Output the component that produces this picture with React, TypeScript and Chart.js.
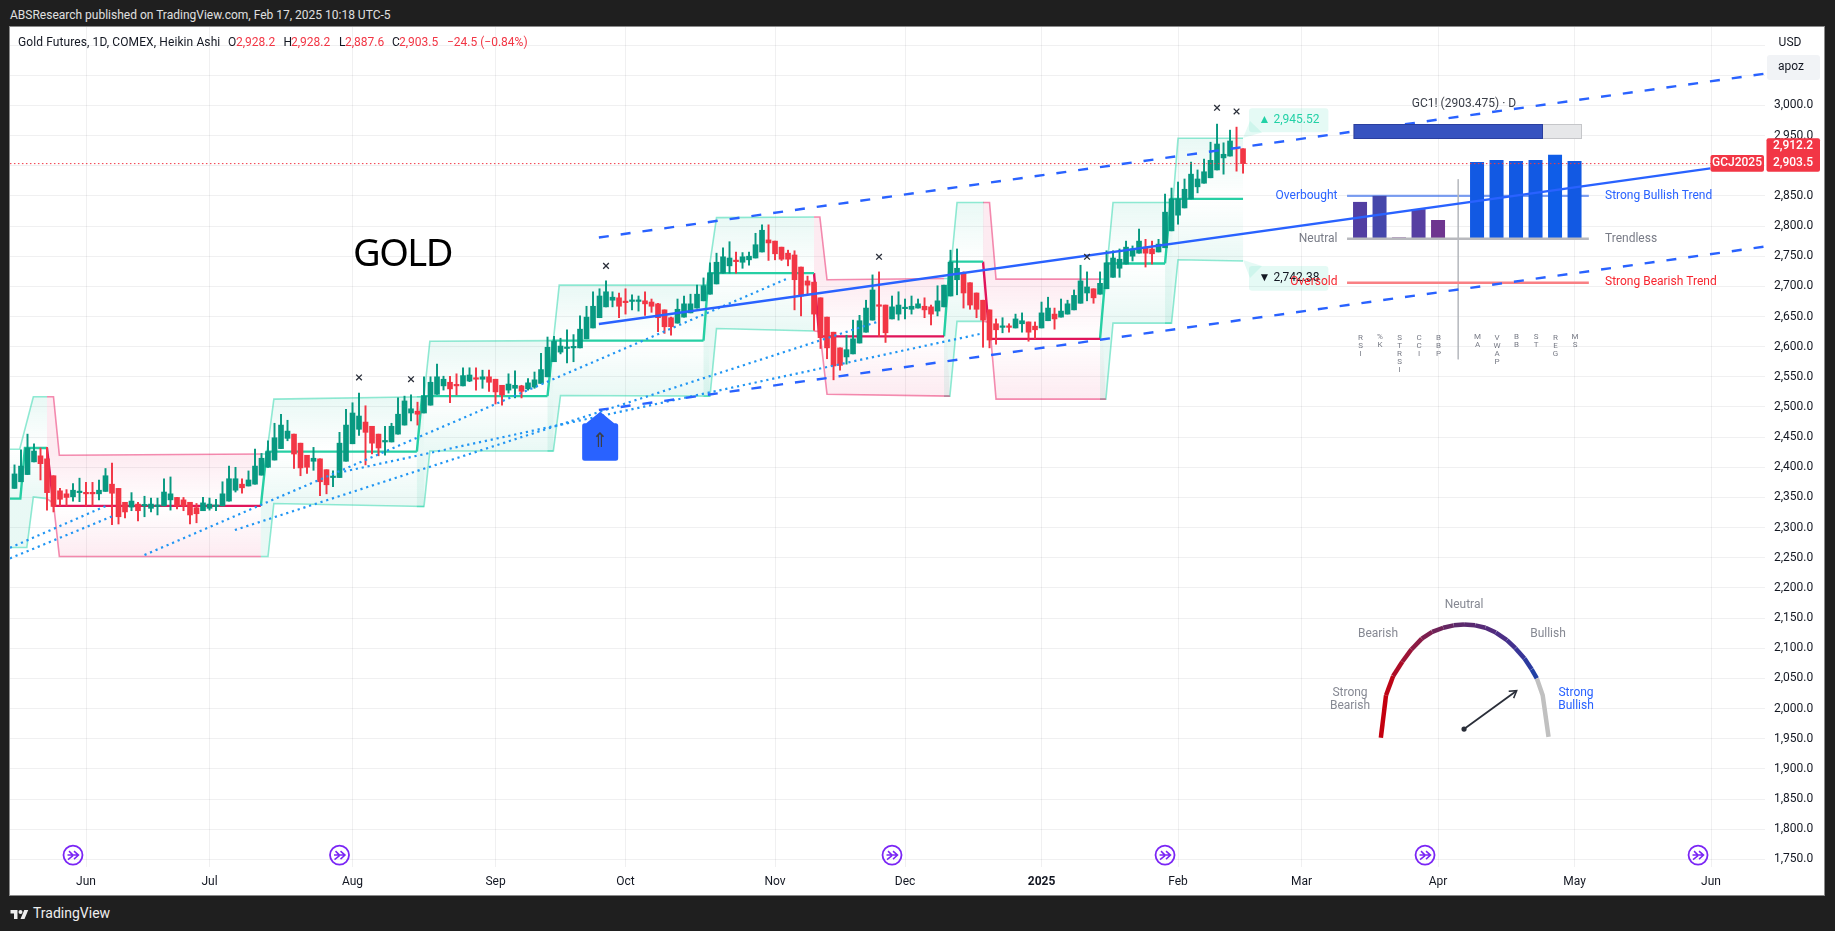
import React, { useEffect, useRef } from "react";
import { Chart, registerables } from "chart.js";

Chart.register(...registerables);

const FONT = "Roboto, sans-serif";

// bar index 0 = first session of June 2024
const firstBar = -11;
const candleOpen = [
  2365,2376,2388,2409,2419,2414,2386,2361,2356,2351,2358,
  2357,2357,2356,2360,2372,2365,2342,2334,2339,2336,
  2332,2335,2336,2346,2350,2346,2342,2333,2328,2332,
  2335,2336,2344,2362,2372,2369,2372,2387,2400,2412,
  2431,2448,2455,2440,2420,2410,2414,2396,2383,2383,
  2410,2439,2463,2475,2468,2455,2442,2442,2455,2470,
  2490,2493,2490,2503,2521,2535,2541,2536,2535,2543,
  2547,2546,2550,2546,2536,2528,2531,2535,2530,2533,
  2539,2550,2575,2591,2597,2598,2598,2613,2631,2648,
  2666,2677,2681,2675,2675,2675,2676,2674,2671,2661,
  2648,2639,2649,2656,2664,2676,2687,2704,2722,2734,
  2742,2740,2744,2747,2757,2777,2775,2765,2755,2752,
  2732,2709,2707,2681,2649,2624,2598,2583,2588,2606,
  2624,2644,2669,2669,2646,2654,2663,2662,2664,2667,
  2666,2659,2666,2684,2711,2722,2706,2689,2677,2661,
  2638,2632,2634,2631,2638,2641,2634,2631,2643,2654,
  2649,2654,2661,2672,2689,2696,2687,2696,2715,2730,
  2737,2750,2755,2765,2762,2757,2764,2792,2818,2830,
  2845,2865,2871,2880,2893,2913,2916,2929,2928.2,
];
const candleHigh = [
  2404,2429,2455,2439,2432,2433,2386,2365,2363,2373,2382,
  2375,2375,2379,2398,2407,2365,2342,2358,2342,2352,
  2349,2349,2381,2384,2350,2350,2342,2340,2350,2349,
  2347,2376,2402,2400,2381,2394,2430,2423,2444,2473,
  2488,2478,2455,2440,2420,2433,2414,2396,2394,2458,
  2496,2507,2523,2502,2468,2455,2468,2473,2515,2518,
  2520,2508,2550,2550,2571,2551,2551,2555,2565,2565,
  2565,2561,2561,2546,2536,2555,2560,2536,2547,2558,
  2589,2616,2617,2614,2628,2620,2651,2667,2691,2696,
  2709,2691,2689,2696,2686,2684,2691,2679,2672,2661,
  2649,2679,2684,2687,2702,2714,2739,2755,2764,2774,
  2757,2756,2757,2788,2802,2802,2775,2765,2760,2759,
  2732,2717,2707,2681,2649,2624,2598,2619,2644,2652,
  2677,2719,2724,2669,2684,2691,2679,2684,2679,2681,
  2669,2701,2702,2760,2762,2724,2706,2689,2677,2661,
  2646,2648,2638,2654,2656,2641,2641,2674,2682,2664,
  2679,2677,2694,2735,2724,2696,2724,2759,2759,2762,
  2775,2767,2795,2778,2775,2778,2853,2863,2873,2878,
  2906,2893,2911,2939,2969,2938,2959,2964,2928.2,
];
const candleLow = [
  2365,2376,2388,2409,2379,2329,2326,2336,2336,2344,2343,
  2336,2336,2346,2360,2305,2306,2316,2328,2311,2318,
  2326,2321,2336,2329,2331,2328,2306,2308,2328,2329,
  2328,2336,2344,2359,2357,2369,2372,2387,2400,2412,
  2431,2444,2398,2386,2390,2395,2353,2356,2368,2383,
  2410,2439,2453,2404,2422,2419,2420,2442,2455,2470,
  2477,2470,2490,2503,2521,2528,2507,2520,2535,2542,
  2528,2531,2526,2505,2503,2523,2515,2515,2528,2531,
  2539,2550,2575,2588,2573,2575,2598,2613,2631,2648,
  2666,2666,2648,2654,2661,2659,2652,2657,2625,2622,
  2619,2639,2649,2656,2664,2676,2687,2704,2722,2722,
  2722,2730,2735,2747,2757,2743,2744,2743,2734,2661,
  2651,2686,2627,2597,2580,2545,2561,2571,2588,2606,
  2624,2644,2617,2607,2646,2644,2646,2654,2664,2648,
  2636,2651,2666,2684,2686,2664,2662,2648,2599,2598,
  2604,2623,2624,2631,2624,2609,2613,2631,2643,2629,
  2649,2654,2661,2672,2676,2672,2687,2696,2715,2715,
  2737,2742,2755,2732,2737,2757,2764,2792,2803,2830,
  2845,2855,2871,2880,2893,2886,2916,2891,2887.6,
];
const candleClose = [
  2389,2402,2432,2427,2406,2358,2335,2347,2350,2362,2360,
  2356,2356,2362,2386,2357,2318,2326,2344,2328,2337,
  2339,2336,2359,2356,2336,2336,2321,2323,2341,2339,
  2336,2356,2381,2381,2366,2379,2402,2415,2426,2449,
  2470,2460,2422,2399,2400,2415,2376,2371,2384,2440,
  2470,2490,2485,2458,2440,2432,2444,2468,2488,2510,
  2497,2488,2518,2541,2550,2546,2530,2535,2552,2553,
  2546,2550,2541,2525,2520,2538,2536,2526,2540,2545,
  2562,2599,2609,2601,2599,2599,2629,2649,2667,2684,
  2691,2682,2667,2673,2676,2676,2671,2667,2648,2633,
  2633,2662,2671,2671,2687,2701,2722,2740,2749,2747,
  2741,2749,2750,2769,2793,2772,2754,2745,2745,2711,
  2684,2702,2654,2615,2598,2568,2569,2595,2613,2643,
  2664,2694,2667,2623,2666,2669,2664,2667,2671,2661,
  2654,2676,2702,2740,2730,2689,2669,2662,2644,2611,
  2628,2634,2632,2646,2643,2624,2628,2656,2664,2646,
  2659,2671,2685,2709,2699,2681,2705,2739,2747,2745,
  2765,2762,2775,2755,2754,2770,2823,2845,2845,2861,
  2886,2878,2890,2909,2936,2919,2941,2928,2903.5,
];

const monthTicks = [0, 19, 41, 63, 83, 106, 126, 147, 168, 187, 208, 229, 250];
const monthLabels = ["Jun", "Jul", "Aug", "Sep", "Oct", "Nov", "Dec", "2025", "Feb", "Mar", "Apr", "May", "Jun"];
const priceTicks = [
  1750, 1800, 1850, 1900, 1950, 2000, 2050, 2100, 2150, 2200, 2250, 2300, 2350, 2400,
  2450, 2500, 2550, 2600, 2650, 2700, 2750, 2800, 2850, 2900, 2950, 3000, 3050, 3100,
];

type Pt = [number, number];
// Band regime pieces: "t" bullish, "p" bearish
const bandKinds = ["t", "p", "t", "t", "t", "t", "p", "t", "p", "t", "t"];
const bandUpper: Pt[][] = [
  [[-11.7, 2430], [-10.2, 2430], [-8.1, 2517], [-6, 2517]],
  [[-6, 2517], [-5, 2517], [-4.1, 2420], [26.9, 2422]],
  [[26.9, 2422], [27.8, 2422], [28.9, 2513], [52, 2517]],
  [[50.9, 2517], [52, 2517], [52.9, 2609], [71.9, 2610]],
  [[71, 2610], [71.9, 2610], [72.8, 2702], [95.5, 2702]],
  [[95, 2702], [95.5, 2702], [97, 2814], [112, 2815]],
  [[112, 2815], [112.9, 2815], [114, 2711], [132, 2713]],
  [[132, 2713], [132.9, 2713], [134, 2839], [138.1, 2839]],
  [[138, 2839], [139, 2839], [140, 2712], [156, 2712]],
  [[156, 2712], [156.9, 2712], [158, 2839], [167.2, 2839]],
  [[166, 2839], [167.2, 2839], [168, 2945.5], [178, 2945.5]],
];
const bandMiddle: Pt[][] = [
  [[-11.7, 2348], [-10.1, 2348], [-9.4, 2432], [-6, 2432]],
  [[-6, 2432], [-5, 2336], [26.9, 2336]],
  [[26.9, 2336], [27.8, 2426], [50.9, 2426]],
  [[50.9, 2426], [51.7, 2518], [71, 2518]],
  [[71, 2518], [71.9, 2610], [95, 2610]],
  [[95, 2610], [95.8, 2722], [112, 2722]],
  [[112, 2722], [112.8, 2617], [132, 2617]],
  [[132, 2617], [132.9, 2741], [138, 2741]],
  [[138, 2741], [139, 2613], [156, 2613]],
  [[156, 2613], [157, 2738], [166, 2738]],
  [[166, 2738], [166.9, 2845], [178, 2845]],
];
const bandLower: Pt[][] = [
  [[-11.7, 2267], [-9.1, 2267], [-8.1, 2351], [-6, 2348]],
  [[-6, 2348], [-5, 2340], [-4.1, 2252], [26.9, 2252]],
  [[26.9, 2252], [28, 2252], [28.9, 2340], [52, 2335]],
  [[50.9, 2335], [52, 2335], [52.9, 2427], [71.9, 2427]],
  [[71, 2427], [71.9, 2427], [73, 2519], [96, 2518]],
  [[95, 2518], [96, 2518], [97, 2630], [112, 2626]],
  [[112, 2626], [112.9, 2625], [114, 2521], [132.9, 2518]],
  [[132, 2518], [132.9, 2518], [134, 2642], [138.1, 2642]],
  [[138, 2642], [139, 2640], [140, 2513], [156.9, 2513]],
  [[156, 2513], [156.9, 2513], [158, 2639], [167, 2639]],
  [[166, 2639], [167, 2639], [168, 2744], [178, 2742]],
];

const channelMid: Pt[] = [[78.9, 2637.6], [249.9, 2895.7]];
const channelUpper: Pt[] = [[78.9, 2781], [258.3, 3052.6]];
const channelLower: Pt[] = [[78.9, 2495], [258.3, 2766]];
const dottedLines: Pt[][] = [
  [[-11.7, 2249], [4.1, 2319]],
  [[-11.7, 2266.5], [3.4, 2337.5]],
  [[9, 2254.6], [107.7, 2712]],
  [[22.9, 2296], [121.7, 2641]],
  [[39.7, 2393], [137.5, 2621]],
];
const lastClose: Pt[] = [[-11.7, 2903.5], [258.3, 2903.5]];

const crossBars = [42, 50, 80, 122, 154, 174, 177];
const crossPrices = [2549, 2546, 2734, 2749, 2749, 2996, 2990];
const signalBars = [-2, 39, 124, 166, 206, 248];
const signalPrice = 1757;

const ratingBars = [196, 199, 202, 205, 208, 214, 217, 220, 223, 226, 229];
const ratingNames = ["RSI", "%K", "STRSI", "CCI", "BBP", "MA", "VWAP", "BB", "ST", "REG", "MS"];
const ratingTops = [2840, 2850, 2781, 2828, 2810, 2906, 2909.5, 2908, 2909.5, 2918, 2908];
const ratingColors = ["#523ea2", "#4547ab", "#6d2c8a", "#563fa2", "#6e358f", "#1259e3", "#1259e3", "#1259e3", "#1259e3", "#0f5de8", "#1259e3"];
const ratingBase = 2779;
const levelOverbought = 2850;
const levelOversold = 2706;

const gaugeBars = [199.2, 200, 201.1, 202.5, 203.9, 205.5, 207.1, 208.8, 210.4, 212, 213.7, 215.3, 216.9, 218.6, 219.9, 221.3, 222.4, 223.2, 224.1, 225];
const gaugeVals = [1951.6, 2022, 2054, 2077.6, 2098, 2116, 2127, 2134, 2138, 2139.5, 2138, 2134, 2126, 2113.5, 2100, 2083, 2065, 2050, 2022, 1953];
const gaugeColors = ["#c4000f", "#bd0516", "#ad0c26", "#9c1436", "#8c1b45", "#7d1f50", "#6f2358", "#642662", "#5c2a6c", "#592a70", "#572b76", "#532c7c", "#4c2e85", "#43318e", "#383597", "#2b3a9f", "#2040a5", "#c0c0c0", "#c0c0c0"];
const needleBars = [212, 220.1];
const needleVals = [1966, 2029.6];

const GREEN = "#089981";
const RED = "#f23645";
const BLUE = "#2962ff";

const toPts = (a: Pt[]) => a.map(([x, y]) => ({ x, y }));

function lineSet(pts: Pt[], color: string, width: number, order: number, dash?: number[]) {
  return {
    type: "line" as const,
    data: toPts(pts),
    borderColor: color,
    borderWidth: width,
    borderDash: dash || [],
    pointRadius: 0,
    fill: false,
    tension: 0,
    borderCapStyle: "butt" as const,
    order,
  };
}

const overlay = {
  id: "overlay",
  beforeDatasetsDraw(chart: any) {
    const { ctx, scales: { x, y } } = chart;
    ctx.save();
    bandKinds.forEach((k, n) => {
      const up = bandUpper[n], lo = bandLower[n], mid = bandMiddle[n];
      const top = y.getPixelForValue(up[up.length - 1][1]);
      const bot = y.getPixelForValue(lo[lo.length - 1][1]);
      const m = y.getPixelForValue(mid[mid.length - 1][1]);
      const g = ctx.createLinearGradient(0, top, 0, bot);
      const c = k === "t" ? "38,190,155" : "233,30,99";
      const a = k === "t" ? 0.1 : 0.09;
      g.addColorStop(0, `rgba(${c},${a})`);
      g.addColorStop(Math.max(0, Math.min(1, (m - top) / (bot - top))), `rgba(${c},0)`);
      g.addColorStop(1, `rgba(${c},${a})`);
      ctx.fillStyle = g;
      ctx.beginPath();
      up.forEach(([px, py], i) => {
        const X = x.getPixelForValue(px), Y = y.getPixelForValue(py);
        i ? ctx.lineTo(X, Y) : ctx.moveTo(X, Y);
      });
      [...lo].reverse().forEach(([px, py]) => ctx.lineTo(x.getPixelForValue(px), y.getPixelForValue(py)));
      ctx.closePath();
      ctx.fill();
    });
    ctx.restore();
  },
  afterDatasetsDraw(chart: any) {
    const { ctx, scales: { x, y } } = chart;
    const P = (px: number) => px - 10;
    const Q = (py: number) => py - 27;
    const text = (s: string, px: number, py: number, color: string, align: CanvasTextAlign = "center", font = `12px ${FONT}`) => {
      ctx.font = font;
      ctx.fillStyle = color;
      ctx.textAlign = align;
      ctx.textBaseline = "middle";
      ctx.fillText(s, P(px), Q(py));
    };
    ctx.save();

    // rating progress bar
    ctx.fillStyle = "#e6e7e9";
    ctx.strokeStyle = "#c5c6c9";
    ctx.lineWidth = 1;
    ctx.fillRect(P(1354), Q(124.5), 227.5, 14);
    ctx.strokeRect(P(1354), Q(124.5), 227.5, 14);
    ctx.fillStyle = "rgba(45,75,190,0.95)";
    ctx.strokeStyle = "#2a3f9f";
    ctx.fillRect(P(1354), Q(124.5), 188.5, 14);
    ctx.strokeRect(P(1354), Q(124.5), 188.5, 14);
    text("GC1! (2903.475) · D", 1464, 104, "#3a3e48");

    // rating captions
    ratingNames.forEach((name, n) => {
      const cx = x.getPixelForValue(ratingBars[n]) + 10.5;
      const start = name.length === 2 ? 337 : 338;
      name.split("").forEach((ch, k) => text(ch, cx, start + k * 8, "#787b86", "center", `8px ${FONT}`));
    });
    text("Overbought", 1337.5, 196, BLUE, "right");
    text("Neutral", 1337.5, 239, "#787b86", "right");
    text("Strong Bullish Trend", 1605, 196, BLUE, "left");
    text("Trendless", 1605, 239, "#787b86", "left");
    text("Strong Bearish Trend", 1605, 282, "#f7252f", "left");

    // band value callouts
    ctx.fillStyle = "rgba(38,214,170,0.12)";
    ctx.beginPath();
    ctx.moveTo(P(1243), Q(138));
    ctx.lineTo(P(1250), Q(121));
    ctx.lineTo(P(1262), Q(132.5));
    ctx.closePath();
    ctx.fill();
    ctx.beginPath();
    ctx.roundRect(P(1249), Q(108.3), 79.4, 24, 3);
    ctx.fill();
    ctx.beginPath();
    ctx.moveTo(P(1243), Q(260));
    ctx.lineTo(P(1250), Q(278));
    ctx.lineTo(P(1262), Q(266));
    ctx.closePath();
    ctx.fill();
    ctx.beginPath();
    ctx.roundRect(P(1249), Q(266), 79.4, 24.7, 3);
    ctx.fill();
    text("▲ 2,945.52", 1289, 120, "#22d1a6", "center", `12px ${FONT}`);
    text("▼ 2,742.38", 1289, 278, "#131722", "center", `12px ${FONT}`);
    text("Oversold", 1337.5, 282, "#f7252f", "right");

    // big title
    (ctx as any).letterSpacing = "-1.5px";
    text("GOLD", 402.5, 255, "#000000", "center", `38px "Noto Sans", sans-serif`);
    (ctx as any).letterSpacing = "0px";

    // entry marker
    const ax = x.getPixelForValue(79.1);
    const ay = y.getPixelForValue(2492);
    ctx.fillStyle = BLUE;
    ctx.beginPath();
    ctx.moveTo(ax, ay);
    ctx.lineTo(ax + 14, ay + 11.5);
    ctx.lineTo(ax + 15.5, ay + 11.5);
    ctx.quadraticCurveTo(ax + 18, ay + 11.5, ax + 18, ay + 14);
    ctx.lineTo(ax + 18, ay + 46.5);
    ctx.quadraticCurveTo(ax + 18, ay + 49, ax + 15.5, ay + 49);
    ctx.lineTo(ax - 15.5, ay + 49);
    ctx.quadraticCurveTo(ax - 18, ay + 49, ax - 18, ay + 46.5);
    ctx.lineTo(ax - 18, ay + 14);
    ctx.quadraticCurveTo(ax - 18, ay + 11.5, ax - 15.5, ay + 11.5);
    ctx.lineTo(ax - 14, ay + 11.5);
    ctx.closePath();
    ctx.fill();
    ctx.font = `20px "DejaVu Sans", sans-serif`;
    ctx.fillStyle = "#3b3f4a";
    ctx.textAlign = "center";
    ctx.textBaseline = "middle";
    ctx.fillText("⇑", ax, ay + 30);

    // signal circles
    signalBars.forEach((b) => {
      const cx = x.getPixelForValue(b), cy = y.getPixelForValue(signalPrice);
      ctx.strokeStyle = "#7a25f5";
      ctx.lineWidth = 1.8;
      ctx.beginPath();
      ctx.arc(cx, cy, 9.5, 0, Math.PI * 2);
      ctx.stroke();
      ctx.lineWidth = 1.5;
      ctx.beginPath();
      ctx.moveTo(cx - 5, cy + 4.5);
      ctx.lineTo(cx, cy + 0.5);
      ctx.moveTo(cx - 5.5, cy);
      ctx.lineTo(cx + 5.5, cy);
      ctx.moveTo(cx - 4, cy - 4);
      ctx.lineTo(cx, cy);
      ctx.moveTo(cx + 1, cy - 4);
      ctx.lineTo(cx + 5.5, cy);
      ctx.lineTo(cx + 1, cy + 4);
      ctx.stroke();
    });

    // gauge needle ends
    const nx0 = x.getPixelForValue(needleBars[0]), ny0 = y.getPixelForValue(needleVals[0]);
    const nx1 = x.getPixelForValue(needleBars[1]), ny1 = y.getPixelForValue(needleVals[1]);
    ctx.fillStyle = "#2a2e39";
    ctx.beginPath();
    ctx.arc(nx0, ny0, 2.6, 0, Math.PI * 2);
    ctx.fill();
    const ang = Math.atan2(ny1 - ny0, nx1 - nx0);
    ctx.strokeStyle = "#2a2e39";
    ctx.lineWidth = 1.5;
    ctx.beginPath();
    ctx.moveTo(nx1 - 8 * Math.cos(ang - 0.55), ny1 - 8 * Math.sin(ang - 0.55));
    ctx.lineTo(nx1, ny1);
    ctx.lineTo(nx1 - 8 * Math.cos(ang + 0.55), ny1 - 8 * Math.sin(ang + 0.55));
    ctx.stroke();
    text("Neutral", 1464, 604.5, "#868993");
    text("Bearish", 1378, 634, "#868993");
    text("Bullish", 1548, 634, "#868993");
    text("Strong", 1350, 692.5, "#868993");
    text("Bearish", 1350, 706, "#868993");
    text("Strong", 1576, 692.5, BLUE);
    text("Bullish", 1576, 706, BLUE);
    ctx.restore();
  },
  afterDraw(chart: any) {
    const { ctx } = chart;
    const P = (px: number) => px - 10;
    const Q = (py: number) => py - 27;
    ctx.save();
    ctx.textAlign = "center";
    ctx.textBaseline = "middle";
    ctx.font = `12px ${FONT}`;
    ctx.fillStyle = "#f1f3f6";
    ctx.beginPath();
    ctx.roundRect(P(1767), Q(55), 53, 25, 3);
    ctx.fill();
    ctx.fillStyle = "#131722";
    ctx.fillText("USD", P(1790), Q(43));
    ctx.fillText("apoz", P(1791), Q(67));
    ctx.fillStyle = RED;
    ctx.beginPath();
    ctx.roundRect(P(1766.5), Q(138.3), 53.5, 33.4, 2);
    ctx.fill();
    ctx.beginPath();
    ctx.roundRect(P(1710.5), Q(155), 53.5, 16.7, 2);
    ctx.fill();
    ctx.fillStyle = "#ffffff";
    ctx.font = `500 12px ${FONT}`;
    ctx.fillText("2,912.2", P(1793), Q(146));
    ctx.fillText("2,903.5", P(1793), Q(163));
    ctx.fillText("GCJ2025", P(1737), Q(163));
    ctx.restore();
  },
};

export default function App() {
  const ref = useRef<HTMLCanvasElement>(null);
  useEffect(() => {
    const idx = candleOpen.map((_, i) => firstBar + i);
    const colors = candleOpen.map((o, i) => (candleClose[i] >= o ? GREEN : RED));
    const datasets: any[] = [];

    bandKinds.forEach((k, n) => {
      const c = k === "t" ? "rgba(38,214,170,0.5)" : "rgba(233,30,99,0.5)";
      datasets.push(lineSet(bandUpper[n], c, 1.6, 90));
      datasets.push(lineSet(bandLower[n], c, 1.6, 90));
    });
    bandKinds.forEach((k, n) => {
      datasets.push(lineSet(bandMiddle[n], k === "t" ? "#26cfa4" : "#e0155a", 2.4, 80));
    });
    datasets.push({
      type: "bar",
      data: idx.map((x, i) => ({ x, y: [candleLow[i], candleHigh[i]] })),
      backgroundColor: colors,
      grouped: false,
      barPercentage: 1,
      categoryPercentage: 1,
      maxBarThickness: 1.3,
      minBarLength: 1,
      order: 70,
    });
    datasets.push({
      type: "bar",
      data: idx.map((x, i) => ({ x, y: [candleOpen[i], candleClose[i]] })),
      backgroundColor: colors,
      grouped: false,
      barPercentage: 1,
      categoryPercentage: 1,
      maxBarThickness: 5,
      minBarLength: 1.5,
      order: 69,
    });
    datasets.push({
      type: "bar",
      data: ratingBars.map((x, i) => ({ x, y: [ratingBase, ratingTops[i]] })),
      backgroundColor: ratingColors,
      grouped: false,
      barPercentage: 2.16,
      categoryPercentage: 1,
      maxBarThickness: 14,
      order: 60,
    });
    datasets.push(lineSet([[194, levelOverbought], [231.2, levelOverbought]], "rgba(41,98,235,0.6)", 2.4, 65));
    datasets.push(lineSet([[194, ratingBase], [231.2, ratingBase]], "#b8b9be", 2.4, 55));
    datasets.push(lineSet([[194, levelOversold], [231.2, levelOversold]], "#f98084", 2.4, 55));
    datasets.push(lineSet([[211.1, 2877.5], [211.1, 2579]], "#b4b6bb", 0.8, 55));
    dottedLines.forEach((d) => datasets.push(lineSet(d, "#2196f3", 2.2, 40, [2.2, 3.8])));
    datasets.push(lineSet(lastClose, "#f23645", 1, 45, [1.5, 2.5]));
    datasets.push(lineSet(channelMid, BLUE, 2.4, 30));
    datasets.push(lineSet(channelUpper, BLUE, 2.4, 30, [10, 12]));
    datasets.push(lineSet(channelLower, BLUE, 2.4, 30, [10, 12]));
    datasets.push({
      type: "scatter",
      data: crossBars.map((x, i) => ({ x, y: crossPrices[i] })),
      pointStyle: "crossRot",
      pointRadius: 4,
      borderColor: "#2a2e39",
      backgroundColor: "#2a2e39",
      borderWidth: 1.3,
      showLine: false,
      order: 20,
    });
    datasets.push({
      type: "line",
      data: gaugeBars.map((x, i) => ({ x, y: gaugeVals[i] })),
      borderWidth: 4.5,
      borderColor: "#c0c0c0",
      segment: { borderColor: (c: any) => gaugeColors[c.p0DataIndex] },
      pointRadius: 0,
      tension: 0,
      fill: false,
      order: 25,
    });
    datasets.push({
      type: "line",
      data: needleBars.map((x, i) => ({ x, y: needleVals[i] })),
      borderColor: "#2a2e39",
      borderWidth: 1.8,
      pointRadius: 0,
      fill: false,
      order: 24,
    });

    const chart = new Chart(ref.current as HTMLCanvasElement, {
      type: "bar",
      data: { datasets },
      plugins: [overlay],
      options: {
        animation: false,
        responsive: false,
        devicePixelRatio: 1,
        events: [],
        layout: { padding: 0, autoPadding: false },
        plugins: { legend: { display: false }, tooltip: { enabled: false }, title: { display: false } },
        scales: {
          x: {
            type: "linear",
            offset: false,
            min: -11.692,
            max: 258.3,
            bounds: "data",
            grid: { offset: false, color: "rgba(42,46,57,0.07)", drawTicks: false },
            border: { display: false },
            afterBuildTicks: (s: any) => {
              s.ticks = monthTicks.map((value) => ({ value }));
            },
            afterFit: (s: any) => {
              s.height = 28;
              s.paddingLeft = s.paddingRight = s.paddingTop = s.paddingBottom = 0;
            },
            ticks: {
              autoSkip: false,
              maxRotation: 0,
              padding: 8,
              color: "#131722",
              font: (c: any) => ({ family: FONT, size: 12, weight: c.tick && c.tick.value === 147 ? "bold" : "normal" }),
              callback: (v: any) => monthLabels[monthTicks.indexOf(v)],
            },
          },
          y: {
            type: "linear",
            position: "right",
            beginAtZero: false,
            min: 1737.3,
            max: 3130,
            bounds: "data",
            grid: { color: "rgba(42,46,57,0.07)", drawTicks: false },
            border: { display: false },
            afterBuildTicks: (s: any) => {
              s.ticks = priceTicks.map((value) => ({ value }));
            },
            afterFit: (s: any) => {
              s.width = 59;
              s.paddingLeft = s.paddingRight = s.paddingTop = s.paddingBottom = 0;
            },
            ticks: {
              autoSkip: false,
              padding: 9,
              crossAlign: "near",
              color: "#131722",
              font: { family: FONT, size: 12 },
              callback: (v: any) =>
                v > 3000 || v === 2900
                  ? ""
                  : Number(v).toLocaleString("en-US", { minimumFractionDigits: 1, maximumFractionDigits: 1 }),
            },
          },
        },
      } as any,
    } as any);
    return () => chart.destroy();
  }, []);

  const legend: [string, number, string][] = [
    ["Gold Futures, 1D, COMEX, Heikin Ashi", 18, "#131722"],
    ["O", 228, "#131722"],
    ["2,928.2", 236, RED],
    ["H", 283.5, "#131722"],
    ["2,928.2", 291, RED],
    ["L", 339, "#131722"],
    ["2,887.6", 345, RED],
    ["C", 392, "#131722"],
    ["2,903.5", 399, RED],
    ["−24.5 (−0.84%)", 447, RED],
  ];

  return (
    <div style={{ position: "fixed", left: 0, top: 0, width: 1835, height: 931, background: "#1f1f1f", overflow: "hidden", fontFamily: FONT }}>
      <div style={{ position: "absolute", left: 10, top: 7, fontSize: 12, lineHeight: "16px", color: "#e0e0e0", whiteSpace: "nowrap" }}>
        ABSResearch published on TradingView.com, Feb 17, 2025 10:18 UTC-5
      </div>
      <div style={{ position: "absolute", left: 9, top: 26, width: 1814, height: 868, border: "1px solid #8a8a8a", background: "#fff" }}>
        <canvas ref={ref} width={1814} height={868} style={{ display: "block", width: 1814, height: 868 }} />
      </div>
      {legend.map(([t, x, c], i) => (
        <div key={i} style={{ position: "absolute", left: x, top: 34, fontSize: 12, lineHeight: "16px", color: c, whiteSpace: "nowrap", letterSpacing: i === 0 ? "0.1px" : undefined }}>
          {t}
        </div>
      ))}
      <svg style={{ position: "absolute", left: 10, top: 908 }} width={19} height={11} viewBox="0 0 36 22">
        <path d="M14 22H7V11H0V4h14v18zM28 22h-8l7.5-18h8L28 22z" fill="#eee" />
        <circle cx="20" cy="8" r="4" fill="#eee" />
      </svg>
      <div style={{ position: "absolute", left: 33, top: 905, fontSize: 14, lineHeight: "17px", color: "#eee", whiteSpace: "nowrap" }}>TradingView</div>
    </div>
  );
}
